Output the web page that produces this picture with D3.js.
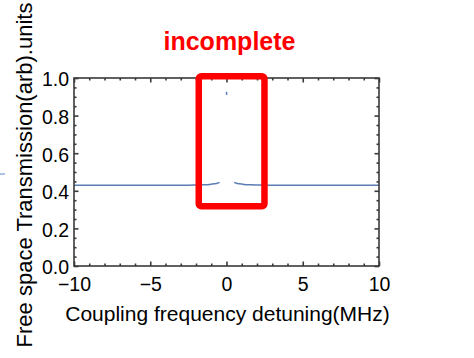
<!DOCTYPE html>
<html>
<head>
<meta charset="utf-8">
<script src="https://cdn.jsdelivr.net/npm/d3@7/dist/d3.min.js"></script>
<style>
  html, body { margin: 0; padding: 0; background: #fff; }
  svg { display: block; font-family: "Liberation Sans", Arial, Helvetica, sans-serif; }
</style>
</head>
<body>
<svg id="chart" width="474" height="358"></svg>
<script>
// ---- data ----
const titleText = "incomplete";
const xLabel = "Coupling frequency detuning(MHz)";
const yLabel = "Free space Transmission(arb).units";
const xDomain = [-10, 10];
const yDomain = [0, 1];
const xMajorTicks = [-10, -5, 0, 5, 10];
const xMinorTicks = [-9, -8, -7, -6, -4, -3, -2, -1, 1, 2, 3, 4, 6, 7, 8, 9];
const yMajorTicks = [0, 0.2, 0.4, 0.6, 0.8, 1.0];
const yMinorTicks = [0.05, 0.1, 0.15, 0.25, 0.3, 0.35, 0.45, 0.5, 0.55, 0.65, 0.7, 0.75, 0.85, 0.9, 0.95];

// left branch of transmission curve (detuning, transmission)
const leftX = [-10, -5, -2.5, -2, -1.5, -1.1, -0.8, -0.6, -0.45];
const leftY = [0.43, 0.43, 0.430, 0.431, 0.432, 0.434, 0.437, 0.440, 0.445];
// right branch
const rightX = [0.5, 0.65, 0.85, 1.15, 1.6, 2, 2.5, 5, 10];
const rightY = [0.445, 0.440, 0.437, 0.434, 0.432, 0.431, 0.430, 0.43, 0.43];
// isolated sampled points near resonance peak
const peakX = [0.0, 0.01];
const peakY = [0.927, 0.91];

// annotation box (data coordinates): [x0, x1], [y0, y1]
const boxX = [-1.82, 2.49];
const boxY = [0.318, 1.009];

// ---- drawing ----
const svg = d3.select("#chart");
const pL = 74, pR = 379, pT = 78, pB = 266;
const x = d3.scaleLinear().domain(xDomain).range([pL, pR]);
const y = d3.scaleLinear().domain(yDomain).range([pB, pT]);

const frameColor = "#3a3a3a";
const lineColor = "#5b7db5";

// stray mark at left edge
svg.append("line").attr("x1", 0).attr("x2", 5).attr("y1", 174).attr("y2", 174)
  .attr("stroke", "#8fb0d8").attr("stroke-width", 1.5);

// title
svg.append("text")
  .attr("x", 229.5).attr("y", 50)
  .attr("text-anchor", "middle")
  .attr("fill", "#ff0000")
  .attr("font-weight", "bold")
  .attr("font-size", 25)
  .text(titleText);

// curve
const line = d3.line().x(d => x(d[0])).y(d => y(d[1])).curve(d3.curveMonotoneX);
const leftPts = leftX.map((v, i) => [v, leftY[i]]);
const rightPts = rightX.map((v, i) => [v, rightY[i]]);
const peakPts = peakX.map((v, i) => [v, peakY[i]]);
[leftPts, rightPts, peakPts].forEach(pts => {
  svg.append("path").attr("d", line(pts))
    .attr("fill", "none").attr("stroke", lineColor).attr("stroke-width", 1.5);
});

// axes helper
function styleAxis(g, showLabels) {
  g.select(".domain").remove();
  g.selectAll(".tick line").attr("stroke", frameColor).attr("stroke-width", 1.6);
  g.selectAll(".tick text").attr("fill", "#000").attr("font-size", 19.5)
    .attr("font-family", "'Liberation Sans', Arial, sans-serif");
  if (!showLabels) g.selectAll(".tick text").remove();
}

const gBottom = svg.append("g").attr("transform", `translate(0,${pB})`)
  .call(d3.axisBottom(x).tickValues(xMajorTicks).tickSize(-4.5).tickPadding(11.5).tickFormat(d3.format("d")));
styleAxis(gBottom, true);
const gBottomMinor = svg.append("g").attr("transform", `translate(0,${pB})`)
  .call(d3.axisBottom(x).tickValues(xMinorTicks).tickSize(-2.5).tickFormat(""));
styleAxis(gBottomMinor, false);

const gTop = svg.append("g").attr("transform", `translate(0,${pT})`)
  .call(d3.axisTop(x).tickValues(xMajorTicks).tickSize(-4.5).tickFormat(""));
styleAxis(gTop, false);
const gTopMinor = svg.append("g").attr("transform", `translate(0,${pT})`)
  .call(d3.axisTop(x).tickValues(xMinorTicks).tickSize(-2.5).tickFormat(""));
styleAxis(gTopMinor, false);

const gLeft = svg.append("g").attr("transform", `translate(${pL},0)`)
  .call(d3.axisLeft(y).tickValues(yMajorTicks).tickSize(-4.5).tickPadding(5).tickFormat(d3.format(".1f")));
styleAxis(gLeft, true);
gLeft.selectAll(".tick text").attr("dy", "0.4em");
const gLeftMinor = svg.append("g").attr("transform", `translate(${pL},0)`)
  .call(d3.axisLeft(y).tickValues(yMinorTicks).tickSize(-2.5).tickFormat(""));
styleAxis(gLeftMinor, false);

const gRight = svg.append("g").attr("transform", `translate(${pR},0)`)
  .call(d3.axisRight(y).tickValues(yMajorTicks).tickSize(-4.5).tickFormat(""));
styleAxis(gRight, false);
const gRightMinor = svg.append("g").attr("transform", `translate(${pR},0)`)
  .call(d3.axisRight(y).tickValues(yMinorTicks).tickSize(-2.5).tickFormat(""));
styleAxis(gRightMinor, false);

// frame
svg.append("rect")
  .attr("x", pL).attr("y", pT)
  .attr("width", pR - pL).attr("height", pB - pT)
  .attr("fill", "none").attr("stroke", frameColor).attr("stroke-width", 1.6);

// axis labels
svg.append("text")
  .attr("x", 227.5).attr("y", 321)
  .attr("text-anchor", "middle")
  .attr("font-size", 21)
  .attr("fill", "#000")
  .text(xLabel);

svg.append("text")
  .attr("transform", "translate(32,175) rotate(-90)")
  .attr("text-anchor", "middle")
  .attr("font-size", 22)
  .attr("fill", "#000")
  .text(yLabel);

// red annotation box
svg.append("rect")
  .attr("x", x(boxX[0])).attr("y", y(boxY[1]))
  .attr("width", x(boxX[1]) - x(boxX[0]))
  .attr("height", y(boxY[0]) - y(boxY[1]))
  .attr("rx", 2.5).attr("ry", 2.5)
  .attr("fill", "none").attr("stroke", "#ff0000").attr("stroke-width", 6.5);
</script>
</body>
</html>
